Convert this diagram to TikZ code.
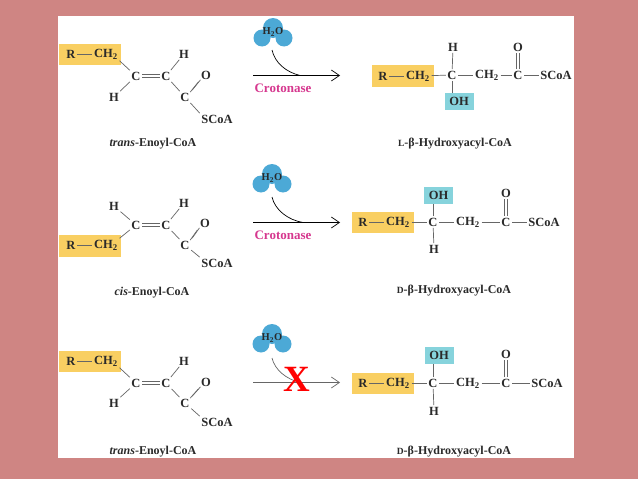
\documentclass[tikz,border=0pt]{standalone}
\usepackage{fontspec}
\setmainfont{Liberation Serif}
\usetikzlibrary{arrows.meta}
\definecolor{slidebg}{HTML}{CF8583}
\definecolor{rgroupfill}{HTML}{F9CF62}
\definecolor{ohfill}{HTML}{86D3DC}
\definecolor{waterblue}{HTML}{4CA9D6}
\definecolor{enzymepink}{HTML}{D6388F}
\definecolor{bondgray}{HTML}{666666}
\definecolor{inkblack}{HTML}{2A2A2A}
\newcommand{\smallcapfont}{\fontsize{9.5}{10}\selectfont}
\begin{document}
\begin{tikzpicture}[
        x=1pt,
        y=-1pt,
        >={Straight Barb[length=8pt,width=11pt]},
        atom/.style={font=\fontsize{12.5}{13}\selectfont\bfseries, text=inkblack, inner sep=1.5pt},
        caption/.style={font=\fontsize{12}{13}\selectfont\bfseries, text=inkblack, inner sep=0pt, yshift=-2pt},
        rgroup/.style={fill=rgroupfill, minimum width=62pt, minimum height=21.5pt, inner sep=0pt},
        ohgroup/.style={atom, fill=ohfill, minimum width=29pt, minimum height=17pt},
        blob/.style={circle, fill=waterblue, minimum size=17pt, inner sep=0pt},
        blobtop/.style={blob, minimum size=20pt},
        water/.style={font=\fontsize{10.5}{11}\selectfont\bfseries, text=inkblack, inner sep=0pt},
        enzyme/.style={font=\fontsize{13}{14}\selectfont\bfseries, text=enzymepink, inner sep=0pt},
        bond/.style={draw=bondgray, line width=0.7pt},
        rxn/.style={->, draw=black, line width=0.7pt}
    ]

        % Slide and white panel
        \path[fill=slidebg] (0,0) rectangle (638,479);
        \path[fill=white] (58,16) rectangle (574,458);
        \useasboundingbox (0,0) rectangle (638,479);

        % Row 1: trans-Enoyl-CoA
        \node[rgroup] (Y1) at (90,54.5) {};
        \node[atom] (R1) at (71,54) {R};
        \node[atom] (CH1) at (106,54) {CH\textsubscript{2}};
        \node[atom] (Ca1) at (136,76) {C};
        \node[atom] (Cb1) at (166,76) {C};
        \node[atom] (Hb1) at (184,54) {H};
        \node[atom] (Ha1) at (114,97) {H};
        \node[atom] (O1) at (206,75) {O};
        \node[atom] (Cc1) at (185,97) {C};
        \node[atom] (S1) at (217,119) {SCoA};
        \node[caption] (T1) at (153,142) {\textit{trans}-Enoyl-CoA};
        \path[bond]
            (R1) edge (CH1)
            (CH1.south east) edge (Ca1)
            (Ca1) edge (Ha1)
            (Cb1) edge (Hb1)
            (Cb1) edge (Cc1)
            (Cc1) edge (S1.north west);
        \draw[bond] ([yshift=1.2pt]Ca1.east) -- ([yshift=1.2pt]Cb1.west);
        \draw[bond] ([yshift=-1.2pt]Ca1.east) -- ([yshift=-1.2pt]Cb1.west);
        \draw[bond] ([xshift=-1pt,yshift=-1pt]Cc1.north east) -- ([xshift=-1pt,yshift=-1pt]O1.south west);
        \draw[bond] ([xshift=1pt,yshift=1pt]Cc1.north east) -- ([xshift=1pt,yshift=1pt]O1.south west);

        % Row 1: water and crotonase
        \node[blobtop] (Wt1) at (273,28) {};
        \node[blob] (Wl1) at (262,38) {};
        \node[blob] (Wr1) at (284,38) {};
        \node[water] (W1) at (273,32) {H\textsubscript{2}O};
        \coordinate (A1) at (253,75.5);
        \coordinate (B1) at (340,75.5);
        \coordinate (Q1) at (272,50);
        \coordinate (P1) at (300,75.5);
        \draw[rxn] (A1) -- (B1);
        \draw[bond, draw=black] (Q1) .. controls (275,63) and (286,72) .. (P1);
        \node[enzyme] (E1) at (283,88) {Crotonase};

        % Row 1: L-product
        \node[rgroup] (Z1) at (403,76) {};
        \node[atom] (r1) at (383,76) {R};
        \node[atom] (ch1) at (418,76) {CH\textsubscript{2}};
        \node[atom] (c1) at (452,75) {C};
        \node[atom] (h1) at (453,47) {H};
        \node[ohgroup] (oh1) at (459,101.5) {OH};
        \node[atom] (cm1) at (487,75) {CH\textsubscript{2}};
        \node[atom] (co1) at (518,75) {C};
        \node[atom] (o1) at (518,47) {O};
        \node[atom] (s1) at (556,75) {SCoA};
        \node[caption] (t1) at (455,142) {{\smallcapfont L}-β-Hydroxyacyl-CoA};
        \path[bond]
            (r1) edge (ch1)
            (ch1) edge (c1)
            (c1) edge (h1)
            (c1) edge (c1 |- oh1.north)
            (c1) edge (cm1)
            (cm1) edge (co1)
            (co1) edge (s1);
        \draw[bond] ([xshift=-1.2pt]co1.north) -- ([xshift=-1.2pt]o1.south);
        \draw[bond] ([xshift=1.2pt]co1.north) -- ([xshift=1.2pt]o1.south);

        % Row 2: cis-Enoyl-CoA
        \node[rgroup] (Y2) at (90,246) {};
        \node[atom] (R2) at (71,245) {R};
        \node[atom] (CH2) at (106,245) {CH\textsubscript{2}};
        \node[atom] (Ca2) at (136,225) {C};
        \node[atom] (Cb2) at (166,225) {C};
        \node[atom] (Hb2) at (184,203) {H};
        \node[atom] (Ha2) at (114,206) {H};
        \node[atom] (O2) at (205,223) {O};
        \node[atom] (Cc2) at (185,245) {C};
        \node[atom] (S2) at (217,263) {SCoA};
        \node[caption] (T2) at (152,291) {\textit{cis}-Enoyl-CoA};
        \path[bond]
            (R2) edge (CH2)
            (CH2.north east) edge (Ca2)
            (Ca2) edge (Ha2)
            (Cb2) edge (Hb2)
            (Cb2) edge (Cc2)
            (Cc2) edge (S2.north west);
        \draw[bond] ([yshift=1.2pt]Ca2.east) -- ([yshift=1.2pt]Cb2.west);
        \draw[bond] ([yshift=-1.2pt]Ca2.east) -- ([yshift=-1.2pt]Cb2.west);
        \draw[bond] ([xshift=-1pt,yshift=-1pt]Cc2.north east) -- ([xshift=-1pt,yshift=-1pt]O2.south west);
        \draw[bond] ([xshift=1pt,yshift=1pt]Cc2.north east) -- ([xshift=1pt,yshift=1pt]O2.south west);

        % Row 2: water and crotonase
        \node[blobtop] (Wt2) at (272,174) {};
        \node[blob] (Wl2) at (261,184) {};
        \node[blob] (Wr2) at (283,184) {};
        \node[water] (W2) at (272,178) {H\textsubscript{2}O};
        \coordinate (A2) at (253,222.5);
        \coordinate (B2) at (340,222.5);
        \coordinate (Q2) at (272,197);
        \coordinate (P2) at (303,222.5);
        \draw[rxn] (A2) -- (B2);
        \draw[bond, draw=black] (Q2) .. controls (275,210) and (288,220) .. (P2);
        \node[enzyme] (E2) at (283,235) {Crotonase};

        % Row 2: D-product
        \node[rgroup] (Z2) at (383,222.5) {};
        \node[atom] (r2) at (363,222) {R};
        \node[atom] (ch2) at (398,222) {CH\textsubscript{2}};
        \node[atom] (c2) at (433,222) {C};
        \node[ohgroup] (oh2) at (438.5,195.5) {OH};
        \node[atom] (h2) at (434,249) {H};
        \node[atom] (cm2) at (468,222) {CH\textsubscript{2}};
        \node[atom] (co2) at (506,222) {C};
        \node[atom] (o2) at (506,193) {O};
        \node[atom] (s2) at (544,222) {SCoA};
        \node[caption] (t2) at (454,289) {{\smallcapfont D}-β-Hydroxyacyl-CoA};
        \path[bond]
            (r2) edge (ch2)
            (ch2) edge (c2)
            (c2) edge (c2 |- oh2.south)
            (c2) edge (h2)
            (c2) edge (cm2)
            (cm2) edge (co2)
            (co2) edge (s2);
        \draw[bond] ([xshift=-1.2pt]co2.north) -- ([xshift=-1.2pt]o2.south);
        \draw[bond] ([xshift=1.2pt]co2.north) -- ([xshift=1.2pt]o2.south);

        % Row 3: trans-Enoyl-CoA
        \node[rgroup] (Y3) at (90,361.5) {};
        \node[atom] (R3) at (71,361) {R};
        \node[atom] (CH3) at (106,361) {CH\textsubscript{2}};
        \node[atom] (Ca3) at (136,383) {C};
        \node[atom] (Cb3) at (166,383) {C};
        \node[atom] (Hb3) at (184,361) {H};
        \node[atom] (Ha3) at (114,403) {H};
        \node[atom] (O3) at (206,382) {O};
        \node[atom] (Cc3) at (185,403) {C};
        \node[atom] (S3) at (217,422) {SCoA};
        \node[caption] (T3) at (153,450) {\textit{trans}-Enoyl-CoA};
        \path[bond]
            (R3) edge (CH3)
            (CH3.south east) edge (Ca3)
            (Ca3) edge (Ha3)
            (Cb3) edge (Hb3)
            (Cb3) edge (Cc3)
            (Cc3) edge (S3.north west);
        \draw[bond] ([yshift=1.2pt]Ca3.east) -- ([yshift=1.2pt]Cb3.west);
        \draw[bond] ([yshift=-1.2pt]Ca3.east) -- ([yshift=-1.2pt]Cb3.west);
        \draw[bond] ([xshift=-1pt,yshift=-1pt]Cc3.north east) -- ([xshift=-1pt,yshift=-1pt]O3.south west);
        \draw[bond] ([xshift=1pt,yshift=1pt]Cc3.north east) -- ([xshift=1pt,yshift=1pt]O3.south west);

        % Row 3: water, blocked arrow
        \node[blobtop] (Wt3) at (272,334) {};
        \node[blob] (Wl3) at (261,344) {};
        \node[blob] (Wr3) at (283,344) {};
        \node[water] (W3) at (272,338) {H\textsubscript{2}O};
        \coordinate (A3) at (253,382.5);
        \coordinate (B3) at (340,382.5);
        \coordinate (Q3) at (272,358);
        \coordinate (P3) at (300,382.5);
        \draw[rxn, draw=bondgray] (A3) -- (B3);
        \draw[bond] (Q3) .. controls (275,370) and (286,379) .. (P3);
        \node[font=\fontsize{37}{37}\selectfont\bfseries, text=red, inner sep=0pt] (X3) at (297,379) {X};

        % Row 3: D-product
        \node[rgroup] (Z3) at (383,383.5) {};
        \node[atom] (r3) at (363,383) {R};
        \node[atom] (ch3) at (398,383) {CH\textsubscript{2}};
        \node[atom] (c3) at (433,383) {C};
        \node[ohgroup] (oh3) at (439,355.5) {OH};
        \node[atom] (h3) at (434,411) {H};
        \node[atom] (cm3) at (468,383) {CH\textsubscript{2}};
        \node[atom] (co3) at (506,383) {C};
        \node[atom] (o3) at (506,354) {O};
        \node[atom] (s3) at (547,383) {SCoA};
        \node[caption] (t3) at (454,450) {{\smallcapfont D}-β-Hydroxyacyl-CoA};
        \path[bond]
            (r3) edge (ch3)
            (ch3) edge (c3)
            (c3) edge (c3 |- oh3.south)
            (c3) edge (h3)
            (c3) edge (cm3)
            (cm3) edge (co3)
            (co3) edge (s3);
        \draw[bond] ([xshift=-1.2pt]co3.north) -- ([xshift=-1.2pt]o3.south);
        \draw[bond] ([xshift=1.2pt]co3.north) -- ([xshift=1.2pt]o3.south);

    \end{tikzpicture}
\end{document}
